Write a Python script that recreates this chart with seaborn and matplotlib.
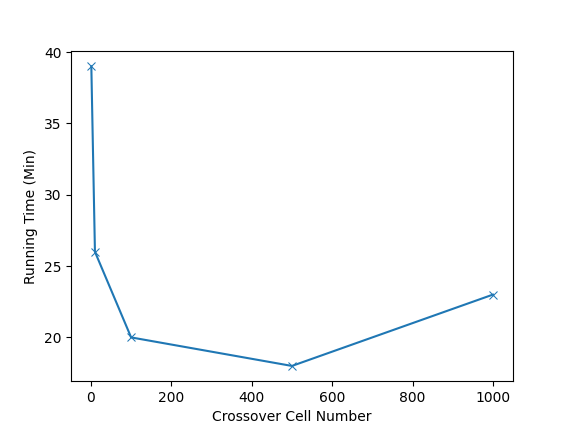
import matplotlib
matplotlib.use("Agg")
import matplotlib.pyplot as plt
import seaborn as sns
import pandas as pd

cells = [1, 10, 100, 500, 1000]
times = [39, 26, 20, 18, 23]

df = pd.DataFrame({"cells": cells, "times": times})
fig, ax = plt.subplots(figsize=(5.7, 4.28), dpi=100)
sns.lineplot(data=df, x="cells", y="times", marker="x", color="#1f77b4",
             markeredgecolor="#1f77b4", ax=ax)
ax.set_xlabel("Crossover Cell Number")
ax.set_ylabel("Running Time (Min)")
fig.savefig("out.png", dpi=100)
